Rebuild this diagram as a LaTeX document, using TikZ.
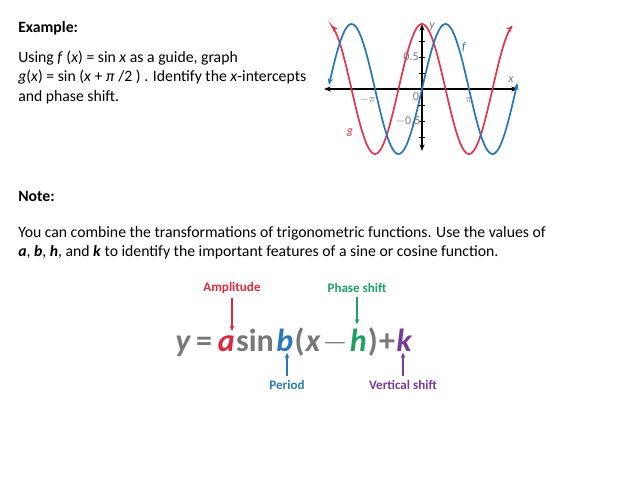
\documentclass[tikz,border=0pt]{standalone}
\usepackage{fontspec}
\setmainfont{Carlito}
\usetikzlibrary{arrows.meta}
\definecolor{fblue}{RGB}{40,120,185}
\definecolor{gred}{RGB}{225,55,80}
\definecolor{pgreen}{RGB}{30,160,100}
\definecolor{vpurple}{RGB}{120,60,150}
\definecolor{fgray}{RGB}{120,120,120}
\definecolor{ared}{RGB}{220,40,60}
\begin{document}
\begin{tikzpicture}[x=0.75pt,y=-0.75pt,
  txt/.style={anchor=base west,inner sep=0pt,font=\fontsize{11.8}{13}\selectfont},
  eq/.style={anchor=base west,inner sep=0pt,font=\fontsize{24}{28}\selectfont\bfseries},
  lab/.style={inner sep=0pt,font=\fontsize{9.8}{11}\selectfont\bfseries},
  arr/.style={-{Stealth[length=4pt,width=3.5pt]},line width=0.9pt},
  curve/.style={line width=1.3pt,{Stealth[length=5pt,width=4pt]}-{Stealth[length=5pt,width=4pt]}}]
\useasboundingbox (0,0) rectangle (638,479);
% texts
\node[txt,font=\fontsize{11.8}{13}\selectfont\bfseries] (ex) at (18,32) {Example:};
\node[txt] (l1) at (18,62) {Using \textit{f} (\textit{x}) = sin \textit{x} as a guide, graph};
\node[txt] (l2) at (18,81) {\textit{g}(\textit{x}) = sin (\textit{x} + \textit{π} /2 ) . Identify the \textit{x}-intercepts};
\node[txt] (l3) at (18,101) {and phase shift.};
\node[txt,font=\fontsize{11.8}{13}\selectfont\bfseries] (note) at (18,201) {Note:};
\node[txt] (n1) at (18,237) {You can combine the transformations of trigonometric functions. Use the values of};
\node[txt] (n2) at (18,256) {\textbf{\textit{a}}, \textbf{\textit{b}}, \textbf{\textit{h}}, and \textbf{\textit{k}} to identify the important features of a sine or cosine function.};
% graph
\begin{scope}[shift={(422,89)}]
\draw[line width=1pt,{Stealth[length=5pt]}-{Stealth[length=5pt]}] (-98,0) -- (96,0);
\draw[line width=1pt,{Stealth[length=5pt]}-{Stealth[length=5pt]}] (0,62) -- (0,-65);
\foreach \t in {-48,-32,-16,16,32,48} \draw[line width=0.6pt] (-3,\t) -- (3,\t);
\draw[curve,gred] plot[domain=-1.93:1.93,samples=120,smooth] ({\x*47},{-65*cos(\x*180)});
\draw[curve,fblue] plot[domain=-1.98:2.03,samples=120,smooth] ({\x*47},{-65*sin(\x*180)});
\node[lab,font=\fontsize{9}{10}\selectfont,text=fgray] (half) at (-11,-32) {0.5};
\node[lab,font=\fontsize{9}{10}\selectfont,text=fgray] (mhalf) at (-14,32) {$-$0.5};
\node[lab,font=\fontsize{9}{10}\selectfont,text=fgray] (zero) at (-6,8) {0};
\node[lab,font=\fontsize{8}{9}\selectfont,text=fgray] (mpi) at (-54,11) {$-\pi$};
\node[lab,font=\fontsize{8}{9}\selectfont,text=fgray] (ppi) at (47,11) {$\pi$};
\node[lab,font=\fontsize{9}{10}\selectfont\itshape,text=fgray] (xl) at (89,-9) {x};
\node[lab,font=\fontsize{9}{10}\selectfont\itshape,text=fgray] (yl) at (10,-62) {y};
\node[lab,font=\fontsize{9}{10}\selectfont\itshape,text=fblue] (fl) at (42,-42) {f};
\node[lab,font=\fontsize{9}{10}\selectfont\itshape,text=gred] (gl) at (-72,44) {g};
\end{scope}
% formula
\node[eq,text=fgray] (y) at (175,351) {\itshape y};
\node[eq,text=fgray] (eqs) at ([xshift=4pt]y.base east) {=};
\node[eq,text=ared] (a) at ([xshift=4pt]eqs.base east) {\itshape a};
\node[eq,text=fgray] (sin) at ([xshift=0.5pt]a.base east) {sin};
\node[eq,text=fblue] (b) at ([xshift=1.5pt]sin.base east) {\itshape b};
\node[eq,text=fgray] (lp) at ([xshift=0.5pt]b.base east) {(};
\node[eq,text=fgray] (x) at ([xshift=0.5pt]lp.base east) {\itshape x};
\node[eq,text=fgray] (mn) at ([xshift=1pt]x.base east) {$-$};
\node[eq,text=pgreen] (h) at ([xshift=1pt]mn.base east) {\itshape h};
\node[eq,text=fgray] (rp) at ([xshift=0.5pt]h.base east) {)};
\node[eq,text=fgray] (pl) at ([xshift=0.5pt]rp.base east) {+};
\node[eq,text=vpurple] (k) at ([xshift=0.5pt]pl.base east) {\itshape k};
\node[lab,text=ared] (amp) at (232,288) {Amplitude};
\node[lab,text=pgreen] (ph) at (357,288) {Phase shift};
\node[lab,text=fblue] (per) at (287,385) {Period};
\node[lab,text=vpurple] (vs) at (403,385) {Vertical shift};
\coordinate (ca) at ([yshift=-3pt]amp.south);
\coordinate (cp) at ([yshift=-3pt]ph.south);
\coordinate (cb) at ([yshift=3pt]per.north);
\coordinate (ck) at ([yshift=3pt]vs.north);
\draw[arr,ared] (ca) -- ([yshift=3pt]ca |- a.north);
\draw[arr,pgreen] (cp) -- ([yshift=3pt]cp |- h.north);
\draw[arr,fblue] (cb) -- ([yshift=-1pt]cb |- b.south);
\draw[arr,vpurple] (ck) -- ([yshift=-1pt]ck |- k.south);
\end{tikzpicture}
\end{document}
